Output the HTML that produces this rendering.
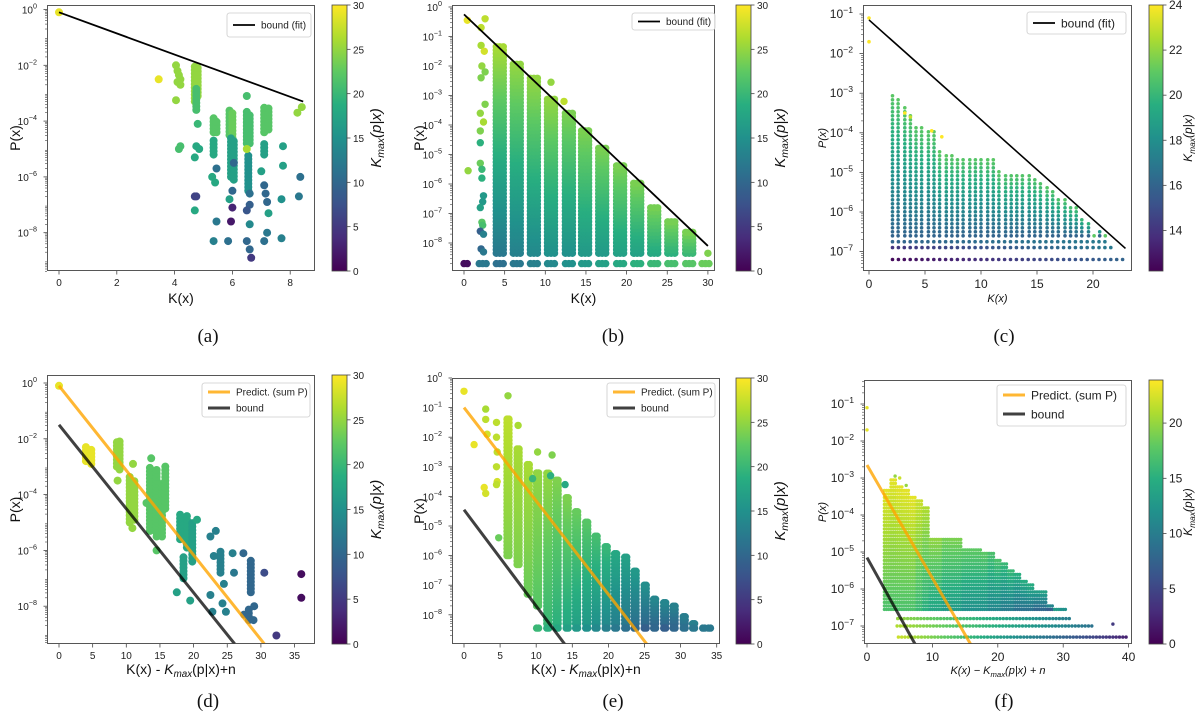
<!DOCTYPE html>
<html><head><meta charset="utf-8"><style>
html,body{margin:0;padding:0;background:#fff;}
svg{display:block;font-family:"Liberation Sans",sans-serif;}
</style></head><body>
<svg id="fig" width="1200" height="721" viewBox="0 0 1200 721" xmlns="http://www.w3.org/2000/svg">
<defs>
<linearGradient id="viridis" x1="0" y1="1" x2="0" y2="0">
<stop offset="0" stop-color="#440154"/><stop offset="0.125" stop-color="#472d7b"/><stop offset="0.25" stop-color="#3b528b"/><stop offset="0.375" stop-color="#2c728e"/><stop offset="0.5" stop-color="#21918c"/><stop offset="0.625" stop-color="#28ae80"/><stop offset="0.75" stop-color="#5ec962"/><stop offset="0.875" stop-color="#addc30"/><stop offset="1" stop-color="#fde725"/>
</linearGradient>
</defs>
</svg>
<script>
// ---------- data ----------
const A_pts = [[0,-0.1,29],[3.45,-2.5,29],[4.05,-2.0,25],[4.1,-2.2,25],[4.15,-2.35,25],[4.2,-2.5,25],[4.1,-2.6,25],[4.2,-2.7,25],[4.05,-3.25,25],[4.2,-4.9,21],[4.15,-5.0,21],[4.7,-5.3,18],[4.75,-4.9,18],[4.85,-5.0,18],[4.8,-4.1,20],[4.7,-6.7,6],[4.75,-6.7,6],[4.7,-7.2,18],[5.45,-5.7,11],[5.4,-6.2,18],[5.3,-6.0,18],[5.35,-8.3,13],[5.45,-7.6,12],[6.0,-6.5,10],[6.05,-5.5,10],[5.9,-6.8,17],[6.0,-7.1,3],[5.95,-7.6,2],[5.85,-8.3,11],[6.5,-3.1,21],[6.5,-5.0,26],[6.6,-6.6,11],[6.6,-7.0,9],[6.5,-7.2,8],[6.6,-7.7,14],[6.5,-8.3,10],[6.6,-8.6,10],[6.65,-8.9,5],[7.0,-5.8,17],[7.1,-6.3,10],[7.15,-6.6,10],[7.2,-6.9,10],[7.25,-7.3,17],[7.1,-8.3,11],[7.2,-8.0,12],[7.75,-4.9,17],[7.75,-5.6,17],[7.7,-6.8,15],[7.7,-8.2,13],[8.25,-3.7,25],[8.4,-3.5,25],[8.35,-6.0,11],[8.3,-6.7,12]];
const A_cols = [[4.7,-2.0,-3.3,25,25],[4.8,-2.0,-3.1,25,25],[4.75,-2.8,-3.6,21,21],[5.35,-3.8,-4.4,22,22],[5.35,-4.6,-5.2,18,18],[5.45,-3.9,-4.4,22,22],[5.9,-3.5,-4.5,22,22],[6.0,-3.6,-4.6,23,23],[5.95,-4.5,-6.0,17,17],[6.05,-4.6,-6.1,17,17],[6.5,-3.6,-4.8,21,21],[6.6,-3.7,-4.8,21,21],[6.55,-5.2,-6.5,15,15],[7.1,-3.4,-4.4,22,22],[7.25,-3.5,-4.3,22,22],[7.1,-4.8,-5.2,17,17]];
const A_bound = [[0,-0.1],[8.45,-3.3]];

const B_cols = [[4.4,-1.3,-8.35,26,12],[6.5,-1.9,-8.35,25,13],[8.6,-2.4,-8.35,25,14],[10.7,-3.1,-8.35,25,15],[12.9,-3.5,-8.35,24,15],[14.9,-4.1,-8.35,24,16],[17.0,-4.7,-8.35,24,16],[19.2,-5.3,-8.35,24,17],[21.3,-5.9,-8.35,24,17],[23.4,-6.7,-8.35,24,18],[25.5,-7.2,-8.35,24,19],[27.7,-7.6,-8.35,24,20]];
const B_rowX = [2.3,4.4,6.5,8.6,10.7,12.9,14.9,17.0,19.2,21.3,23.4,25.5,27.7,29.7];
const B_rowK = [12,11,12,13,14,15,16,17,18,19,20,21,22,23];
const B_rowLog = -8.7;
const B_pts = [[0.4,-0.45,29],[0.5,-5.55,25],[0,-8.7,1],[0.4,-8.7,1],[2.1,-0.7,27],[2.1,-1.3,26],[2.6,-0.4,27],[2.5,-1.5,28],[2.2,-2.0,25],[2.1,-2.4,24],[2.6,-2.2,24],[2.0,-3.6,25],[2.4,-3.9,26],[2.6,-3.3,24],[2.0,-4.2,24],[2.0,-4.6,19],[2.0,-5.3,23],[2.2,-5.5,20],[2.2,-5.8,19],[2.4,-6.4,16],[2.3,-6.6,16],[2.0,-6.8,17],[2.2,-7.3,22],[2.3,-7.4,21],[2.0,-7.6,9],[2.4,-7.7,13],[2.1,-8.2,10],[2.4,-8.3,12],[10.7,-2.55,25],[12.3,-3.2,27],[30,-8.35,24]];
const B_bound = [[0,-0.25],[30,-8.1]];

const C_colX = [2.1,2.6,3.2,3.7,4.2,4.7,5.3,5.8,6.3,6.9,7.4,7.9,8.4,9.0,9.5,10.0,10.6,11.1,11.6,12.2,12.7,13.2,13.7,14.3,14.8,15.3,15.9,16.4,16.9,17.5,18.0,18.5,19.0,19.6,20.1,20.6,21.1,21.7,22.3,22.9];
const C_top = [-3.0,-3.1,-3.35,-3.55,-3.8,-3.85,-3.9,-3.95,-4.45,-4.55,-4.55,-4.6,-4.6,-4.6,-4.6,-4.6,-4.65,-4.65,-4.95,-5.0,-5.0,-5.0,-5.0,-5.0,-5.1,-5.2,-5.35,-5.4,-5.6,-5.65,-5.8,-5.85,-6.1,-6.2,-6.6,-6.4,-6.6,-6.9,-7.2,-7.2];
const C_denseBottom = -6.6;
const C_rows = [[-6.75,2.1,21.2,16,17],[-6.9,2.1,21.8,14,17],[-7.2,2.1,22.9,12.5,16]];
const C_pts = [[0,-1.1,24],[0,-1.7,24],[6.5,-4.1,24],[5.6,-3.95,24],[3.2,-3.5,24],[3.7,-3.6,23]];
const C_bound = [[0,-1.15],[22.9,-6.92]];

const D_cols = [[4,-2.2,-2.8,29,29],[4.8,-2.3,-2.9,29,29],[8.6,-2.0,-3.0,25,25],[9.0,-2.0,-3.1,25,25],[10.5,-3.3,-5.0,25,25],[11.2,-3.4,-4.9,25,25],[13.5,-3.0,-5.3,22,22],[14.5,-3.1,-5.5,22,22],[15.3,-3.5,-5.5,22,22],[15.8,-2.9,-4.5,22,22],[18,-4.7,-5.6,18,18],[19,-4.7,-5.9,18,18],[19.8,-5.0,-6.4,17,17],[18.5,-6.2,-7.0,17,17],[24,-6.0,-6.8,13,13],[28.5,-6.3,-7.5,10,10],[28.2,-8.1,-8.5,10,10]];
const D_pts = [[0,-0.1,29],[11,-2.9,25],[10.9,-5.2,25],[8.7,-3.5,25],[13,-4.3,22],[14.5,-6.0,22],[13.7,-2.7,22],[20.5,-4.9,18],[17.5,-7.5,17],[19.5,-7.8,17],[22.5,-5.5,13],[23.3,-5.3,13],[23,-6.2,13],[25.8,-6.1,13],[22.5,-7.6,13],[22.8,-8.2,13],[24.3,-7.9,13],[24.8,-8.2,13],[26.0,-6.8,12],[24.5,-7.2,13],[27.4,-6.1,10],[27.5,-8.3,10],[29,-8.0,10],[28.9,-8.5,10],[30.5,-6.8,7],[32.3,-9.05,5],[36,-6.85,1],[36,-7.7,1]];
const D_pred = [[0,-0.1],[30.5,-9.35]];
const D_bound = [[0,-1.5],[26.1,-9.35]];

const E_cols = [[6.1,-1.3,-6.0,27,24],[7.5,-2.3,-6.3,26,24],[8.9,-2.9,-7.3,26,23],[10.2,-3.1,-7.7,25,22],[11.6,-3.2,-8.3,25,20],[12.9,-3.45,-8.3,24,19],[14.3,-4.0,-8.3,24,18],[15.6,-4.45,-8.3,23,17],[17.0,-4.85,-8.3,22,16],[18.3,-5.25,-8.3,21,15],[19.7,-5.65,-8.3,20,14],[21.0,-5.85,-8.3,18,13],[22.4,-6.0,-8.3,17,12],[23.7,-6.5,-8.3,16,11],[25.1,-6.9,-8.3,15,10],[26.4,-7.4,-8.3,14,10],[27.8,-7.5,-8.3,14,10],[29.1,-7.7,-8.3,13,10],[30.5,-8.0,-8.3,13,11],[31.8,-8.3,-8.3,13,12]];
const E_rowX = [10.2,11.6,12.9,14.3,15.6,17.0,18.3,19.7,21.0,22.4,23.7,25.1,26.4,27.8,29.1,30.5,31.8,33.2,34.0];
const E_rowK = [20,19,18,17,16,15,14,13,12,11,10,9,10,9,10,11,12,12,12];
const E_rowLog = -8.45;
const E_pts = [[0,-0.45,29],[1.4,-2.25,29],[3,-1.05,26],[3,-1.4,27],[3.2,-1.9,28],[2.8,-3.7,29],[3,-3.9,28],[4.5,-1.5,27],[4.5,-2.0,27],[4.6,-2.5,27],[4.5,-3.0,27],[4.6,-3.5,28],[4.5,-3.6,27],[4.8,-5.4,23],[6.1,-0.6,25],[7.5,-1.6,26],[10.2,-2.5,25],[12.2,-2.6,24],[9.5,-3.4,20],[12,-3.3,19],[14,-3.6,18]];
const E_pred = [[0,-1.0],[26.3,-9.3]];
const E_bound = [[0,-4.45],[14.9,-9.3]];

const F_colX = [3,4,5,6,7,8,9,10,11,12,13,14,15,16,17,18,19,20,21,22,23,24,25,26,27,28,29,30,31,32,33,34,35,36,37,38,39,40];
const F_top = [-3.3,-3.0,-3.2,-3.3,-3.5,-3.6,-3.8,-4.6,-4.6,-4.6,-4.65,-4.65,-4.9,-4.9,-4.9,-4.95,-5.0,-5.2,-5.3,-5.5,-5.6,-5.75,-5.85,-6.0,-6.05,-6.4,-6.55,-6.55,-6.6,-6.95,-6.95,-6.95,-7.3,-7.3,-7.3,-7.3,-7.3,-7.3];
const F_kTop = [23,23,23,23,23,22,21,20,20,19,19,19,18,18,18,18,17,17,16,16,15,15,15,14,14,13,13,12,12,11,10,9,8,7,6,5,4,4];
const F_denseBottom = -6.55;
const F_rows = [[-6.8,4.7,31,20,10],[-7.0,4.6,34.5,21,9],[-7.3,4.8,40,22,2]];
const F_pts = [[0,-1.1,23],[0,-1.7,23],[37.6,-6.95,4],[4.3,-2.95,20],[5,-3.0,22],[6,-3.2,20]];
const F_pred = [[0,-2.65],[16.2,-7.6]];
const F_bound = [[0,-5.15],[7.7,-7.6]];

// ---------- rendering ----------
const NS = 'http://www.w3.org/2000/svg';
const svg = document.getElementById('fig');
function mk(tag, attrs, parent){
  const e = document.createElementNS(NS, tag);
  for (const k in attrs) e.setAttribute(k, attrs[k]);
  (parent||svg).appendChild(e);
  return e;
}
const VIR = ['#440154','#472d7b','#3b528b','#2c728e','#21918c','#28ae80','#5ec962','#addc30','#fde725'];
function hex(h){return [parseInt(h.substr(1,2),16),parseInt(h.substr(3,2),16),parseInt(h.substr(5,2),16)];}
function viridis(t){
  t=Math.max(0,Math.min(1,t)); const p=t*8, i=Math.min(7,Math.floor(p)), f=p-i;
  const a=hex(VIR[i]), b=hex(VIR[i+1]);
  return 'rgb('+a.map((v,j)=>Math.round(v+(b[j]-v)*f)).join(',')+')';
}

function panel(cfg){
  const g = mk('g',{});
  
  
  const X = v => cfg.x0 + cfg.sx*v;
  const Y = l => cfg.yRef - cfg.sy*(l - cfg.lRef);
  const col = k => viridis((k-cfg.kmin)/(cfg.kmax-cfg.kmin));
  const cid = 'clip-'+cfg.id;
  const cp = mk('clipPath',{id:cid}, g);
  mk('rect',{x:cfg.L,y:cfg.T,width:cfg.R-cfg.L,height:cfg.B-cfg.T}, cp);
  const plot = mk('g',{'clip-path':'url(#'+cid+')'}, g);
  
  
  const r = cfg.r;
  function dot(px,py,k){
    const c = mk('circle',{cx:px.toFixed(1),cy:py.toFixed(1),r:r,fill:col(k)}, plot);
    
    
  }
  (cfg.cols||[]).forEach(cc=>{
    const y1=Y(cc[1]), y2=Y(cc[2]);
    for(let py=y2; py>=y1-0.01; py-=cfg.step){
      const f = y2===y1?0:(py-y1)/(y2-y1);
      const k = cc[3]+(cc[4]-cc[3])*f;
      cfg.offs.forEach(o=>dot(X(cc[0])+o, py, k));
    }
  });
  (cfg.rowPts||[]).forEach(p=>cfg.offs.forEach(o=>dot(X(p[0])+o, Y(p[1]), p[2])));
  (cfg.rows||[]).forEach(rw=>{
    for(let px=X(rw[1]); px<=X(rw[2])+0.01; px+=cfg.rowStep){
      const f=(px-X(rw[1]))/(X(rw[2])-X(rw[1]));
      dot(px, Y(rw[0]), rw[3]+(rw[4]-rw[3])*f);
    }
  });
  (cfg.pts||[]).forEach(p=>dot(X(p[0]),Y(p[1]),p[2]));
  (cfg.lines||[]).forEach(ln=>{
    const l = mk('line',{x1:X(ln.d[0][0]),y1:Y(ln.d[0][1]),x2:X(ln.d[1][0]),y2:Y(ln.d[1][1]),stroke:ln.c,'stroke-width':ln.w,'stroke-opacity':ln.o||1}, plot);
    
    
  });
  const fr = mk('rect',{x:cfg.L+0.5,y:cfg.T+0.5,width:cfg.R-cfg.L-1,height:cfg.B-cfg.T-1,fill:'none',stroke:'#444','stroke-width':0.9}, g);
  
  
  const fs = cfg.tfs||10;
  cfg.xt.forEach(v=>{
    const px=X(v);
    mk('line',{x1:px,y1:cfg.B,x2:px,y2:cfg.B+3.5,stroke:'#444','stroke-width':0.8}, g);
    const t = mk('text',{x:px,y:cfg.B+5+fs,'font-size':fs,'text-anchor':'middle',fill:'#222'}, g);
    t.textContent = v;
    
    
  });
  cfg.yt.forEach(l=>{
    const py=Y(l);
    mk('line',{x1:cfg.L-3.5,y1:py,x2:cfg.L,y2:py,stroke:'#444','stroke-width':0.8}, g);
    const t = mk('text',{x:cfg.L-10,y:py+4,'font-size':fs,'text-anchor':'end',fill:'#222'}, g);
    t.textContent = '10';
    const s = mk('tspan',{dy:-5,'font-size':fs*0.72}, t);
    s.textContent = (l<0?'\u2212':'')+Math.abs(l);
    
    
  });
  for(let d=Math.floor(cfg.lmin); d<=Math.ceil(cfg.lmax); d++){
    for(let m=2;m<10;m++){
      const l=d+Math.log10(m);
      if(l<cfg.lmin||l>cfg.lmax) continue;
      mk('line',{x1:cfg.L-2,y1:Y(l),x2:cfg.L,y2:Y(l),stroke:'#444','stroke-width':0.6}, g);
    }
  }
  const yl = mk('text',{x:cfg.ylx,y:(cfg.T+cfg.B)/2,'font-size':cfg.lfs,'text-anchor':'middle',fill:'#111','font-style':cfg.ital?'italic':'normal',transform:'rotate(-90 '+cfg.ylx+' '+(cfg.T+cfg.B)/2+')'}, g);
  yl.textContent = 'P(x)';
  
  
  const xl = mk('text',{x:(cfg.L+cfg.R)/2,y:cfg.xly,'font-size':cfg.lfs,'text-anchor':'middle',fill:'#111','font-style':cfg.ital?'italic':'normal'}, g);
  if(cfg.xlabel==='K'){ xl.textContent='K(x)'; }
  else {
    xl.appendChild(document.createTextNode(cfg.ital?'K(x) \u2212 ':'K(x) - '));
    const k1 = mk('tspan',{'font-style':'italic'}, xl); k1.textContent='K';
    const k2 = mk('tspan',{'font-style':'italic','font-size':cfg.lfs*0.7,dy:3}, xl); k2.textContent='max';
    const k3 = mk('tspan',{dy:-3,'font-style':cfg.ital?'italic':'normal'}, xl); k3.textContent=cfg.ital?'(p|x) + n':'(p|x)+n';
  }
  
  
  const lg = mk('g',{}, g);
  
  
  mk('rect',{x:cfg.lg[0],y:cfg.lg[1],width:cfg.lg[2],height:cfg.lg[3],rx:2.5,fill:'#fff','fill-opacity':0.85,stroke:'#ccc','stroke-width':0.8}, lg);
  cfg.legend.forEach((e,i)=>{
    const yy = cfg.lg[1]+cfg.lgpad+i*cfg.lgsp;
    mk('line',{x1:cfg.lg[0]+6,y1:yy,x2:cfg.lg[0]+6+cfg.lgw,y2:yy,stroke:e.c,'stroke-width':e.w,'stroke-opacity':e.o||1}, lg);
    const t = mk('text',{x:cfg.lg[0]+12+cfg.lgw,y:yy+cfg.lgfs*0.36,'font-size':cfg.lgfs,fill:'#222'}, lg);
    t.textContent = e.t;
    
    
  });
  const cb = mk('g',{}, g);
  
  
  mk('rect',{x:cfg.cb[0],y:cfg.T,width:cfg.cb[1]-cfg.cb[0],height:cfg.B-cfg.T,fill:'url(#viridis)',stroke:'#444','stroke-width':0.8}, cb);
  cfg.cbt.forEach(k=>{
    const py = cfg.B - (k-cfg.kmin)/(cfg.kmax-cfg.kmin)*(cfg.B-cfg.T);
    mk('line',{x1:cfg.cb[1],y1:py,x2:cfg.cb[1]+3.5,y2:py,stroke:'#444','stroke-width':0.8}, cb);
    const t = mk('text',{x:cfg.cb[1]+6,y:py+4,'font-size':cfg.cbfs,fill:'#222'}, cb);
    t.textContent = k;
    
    
  });
  const cx = cfg.cb[1]+cfg.cblx, cy=(cfg.T+cfg.B)/2;
  const ct = mk('text',{x:cx,y:cy,'font-size':cfg.cblfs,'text-anchor':'middle',fill:'#111',transform:'rotate(-90 '+cx+' '+cy+')'}, cb);
  const a1 = mk('tspan',{'font-style':'italic'}, ct); a1.textContent='K';
  const a2 = mk('tspan',{'font-style':'italic','font-size':cfg.cblfs*0.7,dy:3}, ct); a2.textContent='max';
  const a3 = mk('tspan',{'font-style':'italic',dy:-3}, ct); a3.textContent='(p|x)';
  
  
  const cap = mk('text',{x:cfg.capx,y:cfg.capy,'font-size':19,'text-anchor':'middle','font-family':'Liberation Serif, serif',fill:'#111'}, g);
  cap.textContent = '('+cfg.id+')';
  
  
}

const legBound = [{t:'bound (fit)',c:'#000',w:1.8}];
const legPred = [{t:'Predict. (sum P)',c:'#ffa500',w:3,o:0.8},{t:'bound',c:'#000',w:3,o:0.75}];
const big = {r:3.7, lfs:14, ylx:20, cbfs:10, cblfs:15, cblx:34, legend:legBound, lgpad:12, lgsp:17, lgw:22, lgfs:10};
const row1 = {T:5,B:271,capy:342,xly:303};
const row2 = {T:0,B:644,capy:707,xly:674};

const rowPtsB = B_rowX.map((x,i)=>[x,B_rowLog,B_rowK[i]]);
const rowPtsE = E_rowX.map((x,i)=>[x,E_rowLog,E_rowK[i]]);
const colsC = C_colX.map((x,i)=>[x,C_top[i],C_denseBottom,21,16]).filter(c=>c[1]>=C_denseBottom);
const colsF = F_colX.map((x,i)=>[x,F_top[i],F_denseBottom,F_kTop[i],F_kTop[i]-6]).filter(c=>c[1]>=F_denseBottom);

panel(Object.assign({},big,row1,{id:'a',name:'panel-a',L:47,R:315,x0:59,sx:28.9,yRef:9.5,lRef:0,sy:27.9,lmin:-9.4,lmax:0.15,kmin:0,kmax:30,
  xt:[0,2,4,6,8],yt:[0,-2,-4,-6,-8],xlabel:'K',pts:A_pts,cols:A_cols,offs:[0],step:3.5,r:4,
  lines:[{d:A_bound,c:'#000',w:1.8,name:'bound-line'}],lg:[227,13,84,24],cb:[332,347],cbt:[0,5,10,15,20,25,30],capx:208}));
panel(Object.assign({},big,row1,{id:'b',name:'panel-b',L:452,R:715,x0:464,sx:8.13,yRef:7,lRef:0,sy:29.5,lmin:-8.95,lmax:0,kmin:0,kmax:30,ylx:424,
  xt:[0,5,10,15,20,25,30],yt:[0,-1,-2,-3,-4,-5,-6,-7,-8],xlabel:'K',pts:B_pts,cols:B_cols,rowPts:rowPtsB,offs:[-3.5,0,3.5],step:3.5,
  lines:[{d:B_bound,c:'#000',w:1.8,name:'bound-line'}],lg:[632,13,83,17],lgpad:8.5,cb:[736,751],cbt:[0,5,10,15,20,25,30],capx:613}));
panel(Object.assign({},big,row1,{id:'c',name:'panel-c',L:863,R:1132,x0:869,sx:11.2,yRef:14,lRef:-1,sy:39.6,lmin:-7.5,lmax:-0.75,kmin:12.2,kmax:24,ylx:826,
  r:1.8,tfs:12,lfs:11,ital:true,xly:302,
  xt:[0,5,10,15,20],yt:[-1,-2,-3,-4,-5,-6,-7],xlabel:'K',pts:C_pts,cols:colsC,rows:C_rows,offs:[0],step:4,rowStep:5.9,
  lines:[{d:C_bound,c:'#000',w:1.6,name:'bound-line'}],lg:[1027,12,99,22],lgpad:11,lgfs:12,cb:[1149,1163],cbt:[14,16,18,20,22,24],cbfs:12,cblfs:12,cblx:29,capx:1004}));
panel(Object.assign({},big,row2,{id:'d',name:'panel-d',T:375,L:47,R:315,x0:59,sx:6.73,yRef:383,lRef:0,sy:27.9,lmin:-9.36,lmax:0.3,kmin:0,kmax:30,
  xt:[0,5,10,15,20,25,30,35],yt:[0,-2,-4,-6,-8],xlabel:'Kmax',pts:D_pts,cols:D_cols,offs:[0],step:3.5,r:4,
  lines:[{d:D_pred,c:'#ffa500',w:3,o:0.8,name:'predict-line'},{d:D_bound,c:'#000',w:3,o:0.75,name:'bound-line'}],
  legend:legPred,lg:[202,383,108,34],lgpad:9,lgsp:16,cb:[332,347],cbt:[0,5,10,15,20,25,30],capx:208}));
panel(Object.assign({},big,row2,{id:'e',name:'panel-e',T:378,L:452,R:720,x0:464,sx:7.22,yRef:378,lRef:0,sy:29.6,lmin:-8.95,lmax:0,kmin:0,kmax:30,ylx:424,
  xt:[0,5,10,15,20,25,30,35],yt:[0,-1,-2,-3,-4,-5,-6,-7,-8],xlabel:'Kmax',pts:E_pts,cols:E_cols,rowPts:rowPtsE,offs:[-1,1],step:3.5,
  lines:[{d:E_pred,c:'#ffa500',w:3,o:0.8,name:'predict-line'},{d:E_bound,c:'#000',w:3,o:0.75,name:'bound-line'}],
  legend:legPred,lg:[607,383,108,34],lgpad:9,lgsp:16,cb:[736,751],cbt:[0,5,10,15,20,25,30],capx:613}));
panel(Object.assign({},big,row2,{id:'f',name:'panel-f',T:380,L:864,R:1132,x0:867,sx:6.54,yRef:404,lRef:-1,sy:37,lmin:-7.5,lmax:-0.35,kmin:0,kmax:23.9,ylx:826,
  r:1.7,tfs:12,lfs:11,ital:true,xly:674,
  xt:[0,10,20,30,40],yt:[-1,-2,-3,-4,-5,-6,-7],xlabel:'Kmax',pts:F_pts,cols:colsF,rows:F_rows,offs:[-2.2,0,2.2],step:3.5,rowStep:3.3,
  lines:[{d:F_pred,c:'#ffa500',w:3,o:0.8,name:'predict-line'},{d:F_bound,c:'#000',w:3,o:0.75,name:'bound-line'}],
  legend:legPred,lg:[997,385,129,41],lgpad:10,lgsp:19,lgfs:12,cb:[1149,1163],cbt:[0,5,10,15,20],cbfs:12,cblfs:12,cblx:29,capx:1004}));
</script>
</body></html>
